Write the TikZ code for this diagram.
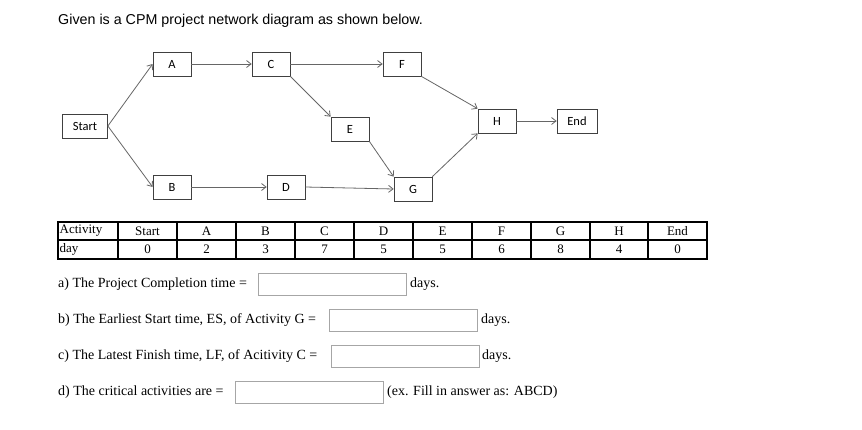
\documentclass[tikz,border=0pt]{standalone}
\usepackage{fontspec}
\setmainfont{Liberation Serif}
\newfontfamily\arialf{Liberation Sans}
\newfontfamily\calf{Carlito}
\usetikzlibrary{arrows.meta}
\begin{document}
\begin{tikzpicture}[x=1pt,y=-1pt,
  act/.style={draw=black!75,line width=0.7pt,fill=white,minimum width=38pt,minimum height=24pt,inner sep=0pt,font=\calf\fontsize{12.5}{14}\selectfont},
  link/.style={draw=black!60,line width=0.8pt,-{Straight Barb[length=4.5pt,width=7pt]}},
  ansbox/.style={draw=black!35,line width=0.8pt,minimum width=148pt,minimum height=22pt,inner sep=0pt},
  qtext/.style={anchor=west,inner sep=0pt,font=\fontsize{14}{16}\selectfont},
  cell/.style={font=\fontsize{13}{14}\selectfont,inner sep=0pt}]
\useasboundingbox[fill=white] (0,0) rectangle (862,429);
\node[anchor=west,inner sep=0pt,font=\arialf\fontsize{14.3}{16}\selectfont] (title) at (58,21) {Given is a CPM project network diagram as shown below.};
\node[act,minimum width=45pt] (S) at (85,126) {Start};
\node[act] (A) at (172,64) {A};
\node[act] (C) at (271,64) {C};
\node[act] (F) at (402,64) {F};
\node[act] (E) at (350,129) {E};
\node[act] (H) at (497,121) {H};
\node[act,minimum width=40pt] (End) at (577,121) {End};
\node[act] (B) at (172,187) {B};
\node[act] (D) at (286,187) {D};
\node[act] (G) at (413,189) {G};
\draw[link] (S.east) -- (A.west);
\draw[link] (S.east) -- (B.west);
\draw[link] (A) -- (C);
\draw[link] (C) -- (F);
\draw[link] (C.south east) -- (E.north west);
\draw[link] (B) -- (D);
\draw[link] (D.east) -- (G.west);
\draw[link] (E.south east) -- (G.north west);
\draw[link] (F.south east) -- (H.north west);
\draw[link] (G.north east) -- (H.south west);
\draw[link] (H) -- (End);
% table
\draw[line width=1.2pt] (58,222) rectangle (707,259);
\draw[line width=1.2pt] (58,240) -- (707,240);
\foreach \x in {118,177,236,295,354,413,472,531,590,648} \draw[line width=1.2pt] (\x,222) -- (\x,259);
\node[cell,anchor=west] (h0) at (59.5,231) {Activity};
\node[cell,anchor=west] (d0) at (59.5,249.5) {day};
\foreach \c/\t/\v [count=\i] in {147.5/Start/0,206.5/A/2,265.5/B/3,324.5/C/7,383.5/D/5,442.5/E/5,501.5/F/6,560.5/G/8,619/H/4,677.5/End/0}{
  \node[cell] (h\i) at (\c,231) {\t};
  \node[cell] (d\i) at (\c,249.5) {\v};
}
% questions
\node[qtext] (qa) at (58,284) {a) The Project Completion time =};
\node[ansbox,anchor=west] (ba) at (258,284) {};
\node[qtext] (ta) at (410,284) {days.};
\node[qtext] (qb) at (58,320) {b) The Earliest Start time, ES, of Activity G =};
\node[ansbox,anchor=west] (bb) at (329,320) {};
\node[qtext] (tb) at (481,320) {days.};
\node[qtext] (qc) at (58,356) {c) The Latest Finish time, LF, of Acitivity C =};
\node[ansbox,anchor=west] (bc) at (331,356) {};
\node[qtext] (tc) at (482,356) {days.};
\node[qtext] (qd) at (58,392) {d) The critical activities are =};
\node[ansbox,anchor=west] (bd) at (235,392) {};
\node[qtext] (td) at (387,392) {(ex. Fill in answer as: ABCD)};
\end{tikzpicture}
\end{document}
